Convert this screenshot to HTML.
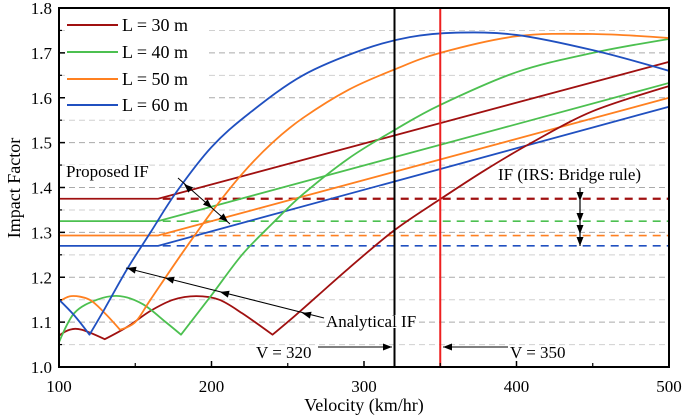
<!DOCTYPE html>
<html><head><meta charset="utf-8"><style>
body{margin:0;background:#fff}
svg{display:block}
svg text{font-family:"Liberation Serif","DejaVu Serif",serif}
</style></head><body>
<svg id="c" width="685" height="417" viewBox="0 0 685 417" font-family="Liberation Serif, serif"></svg>
<script>
const xTicks=[100,200,300,400,500];
const yTicks=[1.0,1.1,1.2,1.3,1.4,1.5,1.6,1.7,1.8];
const seriesNames=["L = 30 m","L = 40 m","L = 50 m","L = 60 m"];
const colors=["#a01010","#4cc050","#ff8020","#2050c0"];
const an30v=[100,107,115,130,145,160,175,190,205,220,240,255,270,290,320,350,380,410,450,500];
const an30y=[1.07,1.083,1.083,1.062,1.09,1.125,1.15,1.158,1.15,1.12,1.072,1.115,1.16,1.22,1.305,1.374,1.44,1.5,1.57,1.626];
const an40v=[100,110,125,140,155,170,180,200,220,240,260,290,320,350,400,450,500];
const an40y=[1.055,1.12,1.15,1.158,1.14,1.1,1.072,1.16,1.25,1.32,1.385,1.465,1.528,1.584,1.657,1.70,1.731];
const an50v=[100,108,120,130,140,150,160,180,200,220,240,260,290,320,350,400,450,500];
const an50y=[1.145,1.158,1.15,1.12,1.083,1.1,1.15,1.25,1.345,1.43,1.5,1.555,1.618,1.663,1.70,1.737,1.742,1.733];
const an60v=[100,110,120,130,145,160,177,200,225,260,300,330,360,400,450,500];
const an60y=[1.15,1.115,1.072,1.13,1.22,1.30,1.39,1.49,1.566,1.65,1.708,1.735,1.745,1.74,1.706,1.66];
const cusps=[[130,240],[180],[140],[120]];
const propFlat=[1.375,1.325,1.293,1.27];
const propEnd=[1.68,1.633,1.6,1.58];
const propKnee=165;
const markerV=[320,350];
const X=v=>59+(v-100)*610/400;
const Y=f=>367-(f-1)*359/0.8;
const svg=document.getElementById('c');
const NS='http://www.w3.org/2000/svg';
function mk(tag,attrs,parent){const e=document.createElementNS(NS,tag);for(const k in attrs)e.setAttribute(k,attrs[k]);(parent||svg).appendChild(e);return e;}
function smooth(vs,ys,cs){const P=vs.map((v,i)=>[X(v),Y(ys[i])]);let d='M'+P[0].join(',');
for(let i=0;i<P.length-1;i++){const p0=P[i-1]||P[i],p1=P[i],p2=P[i+1],p3=P[i+2]||P[i+1];
const c1=cs.includes(vs[i])||i==0,c2=cs.includes(vs[i+1])||i==P.length-2;
const t=1/6;const a=c1?p1:[p1[0]+(p2[0]-p0[0])*t,p1[1]+(p2[1]-p0[1])*t];
const b=c2?p2:[p2[0]-(p3[0]-p1[0])*t,p2[1]-(p3[1]-p1[1])*t];
d+=` C${a[0]},${a[1]} ${b[0]},${b[1]} ${p2[0]},${p2[1]}`;}return d;}
for(let i=1;i<16;i++){const f=1+i*0.05;const g=mk('line',{x1:59,x2:669,y1:Y(f),y2:Y(f),stroke:i%2?'#d0d0d0':'#aaaaaa','stroke-width':1,'stroke-dasharray':'6,4'});

}
for(let s=0;s<4;s++){const l=mk('line',{x1:X(168),x2:669,y1:Y(propFlat[s]),y2:Y(propFlat[s]),stroke:colors[s],'stroke-width':s==0?2.2:1.6,'stroke-dasharray':'8,6'});

}
for(let s=0;s<4;s++){const p=mk('polyline',{points:`${X(100)},${Y(propFlat[s])} ${X(propKnee)},${Y(propFlat[s])} ${X(500)},${Y(propEnd[s])}`,fill:'none',stroke:colors[s],'stroke-width':1.8});

}
const AV=[an30v,an40v,an50v,an60v],AY=[an30y,an40y,an50y,an60y];
for(let s=0;s<4;s++){
const p=mk('path',{d:smooth(AV[s],AY[s],cusps[s]),fill:'none',stroke:colors[s],'stroke-width':1.8,'stroke-linejoin':'round'});

}
const v1=mk('line',{x1:X(markerV[0]),x2:X(markerV[0]),y1:8,y2:367,stroke:'#000','stroke-width':2});


const v2=mk('line',{x1:X(markerV[1]),x2:X(markerV[1]),y1:8,y2:367,stroke:'#ee2020','stroke-width':2});


const fr=mk('rect',{x:59,y:8,width:610,height:359,fill:'none',stroke:'#000','stroke-width':2});


for(const t of xTicks){mk('line',{x1:X(t),x2:X(t),y1:367,y2:361,stroke:'#000','stroke-width':1.5});
const tx=mk('text',{x:X(t),y:392,'text-anchor':'middle','font-size':17});tx.textContent=t;

}
for(const t of [150,250,350,450])mk('line',{x1:X(t),x2:X(t),y1:367,y2:363,stroke:'#000','stroke-width':1.2});
for(const t of yTicks){mk('line',{x1:59,x2:65,y1:Y(t),y2:Y(t),stroke:'#000','stroke-width':1.5});
const tx=mk('text',{x:52,y:Y(t)+6,'text-anchor':'end','font-size':17});tx.textContent=t.toFixed(1);

}
for(let i=0;i<8;i++)mk('line',{x1:59,x2:62,y1:Y(1.05+i*0.1),y2:Y(1.05+i*0.1),stroke:'#000','stroke-width':1.2});
const xt=mk('text',{x:364,y:411,'text-anchor':'middle','font-size':18});xt.textContent='Velocity (km/hr)';


const yt=mk('text',{x:20,y:188,'text-anchor':'middle','font-size':18,transform:'rotate(-90 20 188)'});yt.textContent='Impact Factor';


const ly=[25,52,79,105];
for(let s=0;s<4;s++){const g=mk('g',{});


mk('rect',{x:66,y:ly[s]-11,width:140,height:22,fill:'#fff'},g);
mk('line',{x1:67,x2:118,y1:ly[s],y2:ly[s],stroke:colors[s],'stroke-width':2},g);
const t=mk('text',{x:122,y:ly[s]+6,'font-size':18},g);t.textContent=seriesNames[s];}
function arrowHead(x,y,ang){const a=ang*Math.PI/180,L=9,W=3.5;
const p=[[x,y],[x-L*Math.cos(a)+W*Math.sin(a),y-L*Math.sin(a)-W*Math.cos(a)],[x-L*Math.cos(a)-W*Math.sin(a),y-L*Math.sin(a)+W*Math.cos(a)]];
mk('polygon',{points:p.map(q=>q.join(',')).join(' '),fill:'#000'});}
function txt(x,y,s,name,anchor){const t=mk('text',{x:x,y:y,'font-size':17,'text-anchor':anchor||'start'});t.textContent=s;


const b=t.getBBox();const r=mk('rect',{x:b.x-1,y:b.y+3,width:b.width+2,height:b.height-6,fill:'#fff'});svg.insertBefore(r,t);}
txt(66,177,'Proposed IF','proposed-if-label');
mk('line',{x1:178,y1:178,x2:230,y2:224,stroke:'#000','stroke-width':1});
arrowHead(184,184,-138);arrowHead(212,208,42);arrowHead(228,222,42);
txt(326,327,'Analytical IF','analytical-if-label');
mk('line',{x1:324,y1:318,x2:126,y2:268,stroke:'#000','stroke-width':1});
arrowHead(127,268,194);arrowHead(165,278,194);arrowHead(220,292,194);arrowHead(302,313,194);
txt(256,358,'V = 320','v320-label');
mk('line',{x1:318,y1:347,x2:392,y2:347,stroke:'#000','stroke-width':1});arrowHead(392,347,0);
txt(510,358,'V = 350','v350-label','start');
mk('line',{x1:508,y1:347,x2:443,y2:347,stroke:'#000','stroke-width':1});arrowHead(443,347,180);
txt(498,180,'IF (IRS: Bridge rule)','irs-if-label');
mk('line',{x1:580,y1:188,x2:580,y2:246,stroke:'#000','stroke-width':1.2});
arrowHead(580,201,90);arrowHead(580,222,90);arrowHead(580,234,90);arrowHead(580,246,90);
</script>
</body></html>
